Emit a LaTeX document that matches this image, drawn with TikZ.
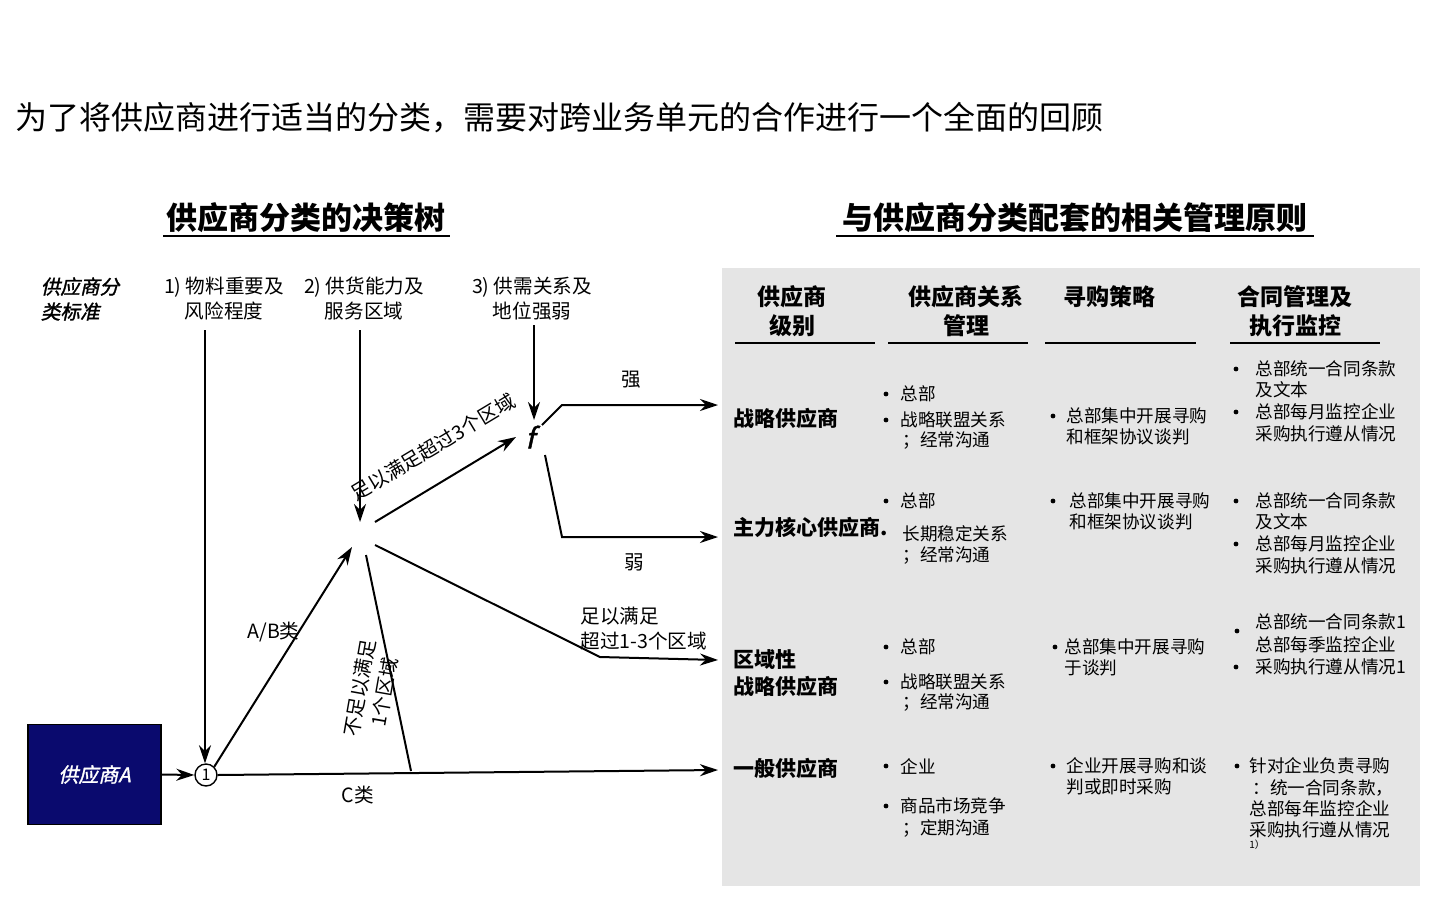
\documentclass[tikz,border=0pt]{standalone}
\usepackage{fontspec}
\setmainfont{Noto Sans CJK SC}
\newfontfamily\slantfont{Noto Sans CJK SC}[FakeSlant=0.22,FakeBold=1.5]
\usetikzlibrary{arrows.meta}
\tikzset{
 body/.style={anchor=west,inner sep=0pt,font=\fontsize{8.8pt}{10pt}\selectfont},
 rowlab/.style={anchor=west,inner sep=0pt,align=left,font=\fontsize{10.5pt}{13.5pt}\selectfont\bfseries},
 colhead/.style={inner sep=0pt,align=center,font=\fontsize{11.5pt}{14.5pt}\selectfont\bfseries},
 crit/.style={inner sep=0pt,align=center,font=\fontsize{9.8pt}{12.5pt}\selectfont},
 arr/.style={-{Stealth[length=9pt,width=6pt]},line width=1pt},
 ln/.style={line width=1pt},
 bul/.style={circle,fill=black,inner sep=0pt,minimum size=2.4pt},
}
\newcommand{\bt}[4]{\node[body] (#1) at (#2,#3) {#4};}
\newcommand{\bb}[5]{\node[bul] (#1d) at (#2,#4) {};\node[body] (#1) at (#3,#4) {#5};}
\begin{document}
\begin{tikzpicture}[x=0.5pt,y=-0.5pt]
\useasboundingbox (0,0) rectangle (1440,900);
\fill[white] (0,0) rectangle (1440,900);
% title
\node[anchor=west,inner sep=0pt,font=\fontsize{16pt}{17pt}\selectfont] (title) at (15,118) {为了将供应商进行适当的分类，需要对跨业务单元的合作进行一个全面的回顾};
\node[inner sep=0pt,font=\fontsize{15.5pt}{17pt}\selectfont\bfseries] (hl) at (306,218) {供应商分类的决策树};
\draw[line width=1pt] (163,236) -- (450,236);
\node[inner sep=0pt,font=\fontsize{15.5pt}{17pt}\selectfont\bfseries] (hr) at (1075,218) {与供应商分类配套的相关管理原则};
\draw[line width=1pt] (836,236) -- (1314,236);
% panel
\fill[black!10] (722,268) rectangle (1420,886);
\node[colhead] (c1) at (792,311) {供应商\\级别};
\node[colhead] (c2) at (966,311) {供应商关系\\管理};
\node[colhead,anchor=west] (c3) at (1063,297) {寻购策略};
\node[colhead] (c4) at (1295,311) {合同管理及\\执行监控};
\foreach \a/\b in {735/875,888/1028,1045/1196,1230/1380} \draw[line width=1pt] (\a,343) -- (\b,343);
% row labels
\node[rowlab] (r1) at (733,418) {战略供应商};
\node[rowlab] (r2) at (733,527) {主力核心供应商.};
\node[rowlab] (r3) at (733,673) {区域性\\战略供应商};
\node[rowlab] (r4) at (733,768) {一般供应商};
% row 1
\bb{a1}{886}{900}{394}{总部}
\bb{a2}{886}{900}{420}{战略联盟关系}
\bt{a3}{902}{441}{；经常沟通}
\bb{b1}{1053}{1066}{416}{总部集中开展寻购}
\bt{b2}{1066}{437}{和框架协议谈判}
\bb{d1}{1236}{1255}{369}{总部统一合同条款}
\bt{d2}{1255}{390}{及文本}
\bb{d3}{1236}{1255}{412}{总部每月监控企业}
\bt{d4}{1255}{434}{采购执行遵从情况}
% row 2
\bb{e1}{886}{900}{501}{总部}
\bt{e2}{902}{534}{长期稳定关系}
\bt{e3}{902}{556}{；经常沟通}
\bb{f1}{1053}{1069}{501}{总部集中开展寻购}
\bt{f2}{1069}{522}{和框架协议谈判}
\bb{g1}{1236}{1255}{501}{总部统一合同条款}
\bt{g2}{1255}{522}{及文本}
\bb{g3}{1236}{1255}{544}{总部每月监控企业}
\bt{g4}{1255}{566}{采购执行遵从情况}
% row 3
\bb{h1}{886}{900}{647}{总部}
\bb{h2}{886}{900}{682}{战略联盟关系}
\bt{h3}{902}{703}{；经常沟通}
\bb{i1}{1055}{1064}{647}{总部集中开展寻购}
\bt{i2}{1064}{668}{于谈判}
\node[bul] (j0) at (1237,631) {};
\bt{j1}{1255}{622}{总部统一合同条款1}
\bt{j2}{1255}{645}{总部每季监控企业}
\bb{j3}{1236}{1255}{667}{采购执行遵从情况1}
% row 4
\bb{k1}{886}{900}{766}{企业}
\bb{k2}{886}{900}{806}{商品市场竞争}
\bt{k3}{902}{828}{；定期沟通}
\bb{l1}{1053}{1066}{766}{企业开展寻购和谈}
\bt{l2}{1066}{787}{判或即时采购}
\bb{m1}{1237}{1249}{766}{针对企业负责寻购}
\bt{m2}{1252}{788}{：统一合同条款，}
\bt{m3}{1249}{809}{总部每年监控企业}
\bt{m4}{1249}{830}{采购执行遵从情况}
\node[anchor=west,inner sep=0pt,font=\fontsize{5pt}{6pt}\selectfont] (m5) at (1249,845) {1）};
% tree
\node[inner sep=0pt,align=left,font=\fontsize{9.8pt}{12.5pt}\selectfont\slantfont] (crt) at (80,299) {供应商分\\类标准};
\node[crit] (k1c) at (224,299) {1) 物料重要及\\风险程度};
\node[crit] (k2c) at (364,299) {2) 供货能力及\\服务区域};
\node[crit] (k3c) at (532,299) {3) 供需关系及\\地位强弱};
\node[fill={rgb,255:red,10;green,10;blue,110},draw=black,line width=0.8pt,minimum width=66.5pt,minimum height=50pt,inner sep=0pt,text=white,font=\fontsize{10pt}{12pt}\selectfont\slantfont] (sa) at (94.5,774.5) {供应商A};
\node[circle,draw,line width=0.7pt,minimum size=11pt,inner sep=0pt,font=\fontsize{8pt}{9pt}\selectfont] (n1) at (206,775) {1};
\coordinate (p) at (362,535);
\node[inner sep=0pt,font=\fontsize{14pt}{16pt}\selectfont\slantfont] (fn) at (530,437) {f};
\coordinate (top1) at (205,330);
\coordinate (top2) at (360,330);
\coordinate (top3) at (534,325);
\coordinate (e1) at (718,405);
\coordinate (e2) at (718,537);
\coordinate (e3) at (718,660);
\coordinate (e4) at (718,770);
\coordinate (j) at (411,771);
\draw[arr] (top1) -- (n1.north -| top1);
\draw[arr] (sa.east) -- (n1.west);
\draw[arr] (n1.east) -- (e4);
\draw[arr] (n1.north east) -- (352,547);
\draw[arr] (top2) -- (360,522);
\draw[arr] (375,522) -- (516,437);
\draw[arr] (top3) -- (534,420);
\draw[arr] (542,425) -- (562,405) -- (e1);
\draw[arr] (545,455) -- (562,537) -- (e2);
\draw[arr] (375,545) -- (600,657) -- (e3);
\draw[ln] (366,555) -- (j);
\node[crit] (lab1) at (631,380) {强};
\node[crit] (lab2) at (634,562) {弱};
\node[crit,anchor=west] (lab3) at (247,632) {A/B类};
\node[crit] (lab4) at (358,795) {C类};
\node[crit,anchor=west,align=left] (lab5) at (580,629) {足以满足\\超过1-3个区域};
\node[crit,rotate=31] (lab6) at (433,447) {足以满足超过3个区域};
\node[crit,rotate=80] (lab7) at (372,690) {不足以满足\\1个区域};
\end{tikzpicture}
\end{document}
